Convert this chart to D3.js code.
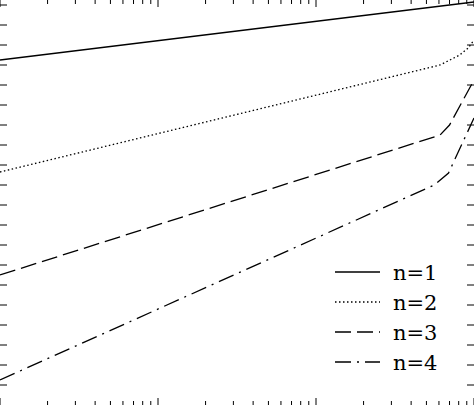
<!DOCTYPE html>
<html><head><meta charset="utf-8">
<script src="https://cdn.jsdelivr.net/npm/d3@7"></script>
<style>body{margin:0;background:#fff}</style>
</head><body><div id="chart"></div>
<script>
// Series values (x on log scale, y linear)
const X_N1 = [1, 1000];
const Y_N1 = [17.25, 20.15];
const X_N2 = [1, 610, 812, 920, 1000];
const Y_N2 = [11.65, 17.0, 17.5, 17.85, 18.25];
const X_N3 = [1, 610, 700, 1000];
const Y_N3 = [6.5, 13.5, 14.0, 16.25];
const X_N4 = [1, 560, 690, 1000];
const Y_N4 = [1.25, 11.0, 11.6, 14.35];
const LABELS = ['n=1', 'n=2', 'n=3', 'n=4'];
const DASHES = ['none', '1.5,2.5', '16,6', '16,6,2,6'];
const Y_TICKS = d3.range(1, 21);

const WIDTH = 474, HEIGHT = 405;
const svg = d3.select('#chart').append('svg')
  .attr('width', WIDTH).attr('height', HEIGHT);

const x = d3.scaleLog().domain([1, 1000]).range([0, WIDTH]);
const y = d3.scaleLinear().domain([0, 20.25]).range([HEIGHT, 0]);

// Ticks: log on top/bottom, linear on left/right
const xTicks = [];
for (let d = 1; d < 1000; d *= 10) for (let k = 1; k < 10; k++) xTicks.push(d * k);
xTicks.push(1000);
const tickLen = v => (Math.abs(Math.log10(v) % 1) < 1e-9 ? 7 : 4);
const tg = svg.append('g').attr('stroke', '#000').attr('stroke-width', 1);
xTicks.forEach(v => {
  const px = x(v);
  tg.append('line').attr('x1', px).attr('x2', px).attr('y1', 0).attr('y2', tickLen(v));
  tg.append('line').attr('x1', px).attr('x2', px).attr('y1', HEIGHT).attr('y2', HEIGHT - tickLen(v));
});
Y_TICKS.forEach(v => {
  const py = y(v);
  tg.append('line').attr('x1', 0).attr('x2', 7).attr('y1', py).attr('y2', py);
  tg.append('line').attr('x1', WIDTH).attr('x2', WIDTH - 7).attr('y1', py).attr('y2', py);
});

// Lines
const series = [[X_N1, Y_N1], [X_N2, Y_N2], [X_N3, Y_N3], [X_N4, Y_N4]];
const line = d3.line().x(d => x(d[0])).y(d => y(d[1]));
series.forEach(([xs, ys], i) => {
  svg.append('path')
    .datum(xs.map((v, j) => [v, ys[j]]))
    .attr('d', line)
    .attr('fill', 'none')
    .attr('stroke', '#000')
    .attr('stroke-width', 1.3)
    .attr('stroke-dasharray', DASHES[i]);
});

// Legend
const legend = svg.append('g').attr('transform', 'translate(335,272)');
LABELS.forEach((lab, i) => {
  const g = legend.append('g').attr('transform', `translate(0,${i * 30})`);
  g.append('line').attr('x1', 0).attr('x2', 45).attr('y1', 0).attr('y2', 0)
    .attr('stroke', '#000').attr('stroke-width', 1.3).attr('stroke-dasharray', DASHES[i]);
  g.append('text').attr('x', 58).attr('y', 8).text(lab)
    .style('font-family', 'DejaVu Serif').style('font-size', '21px');
});
</script></body></html>
